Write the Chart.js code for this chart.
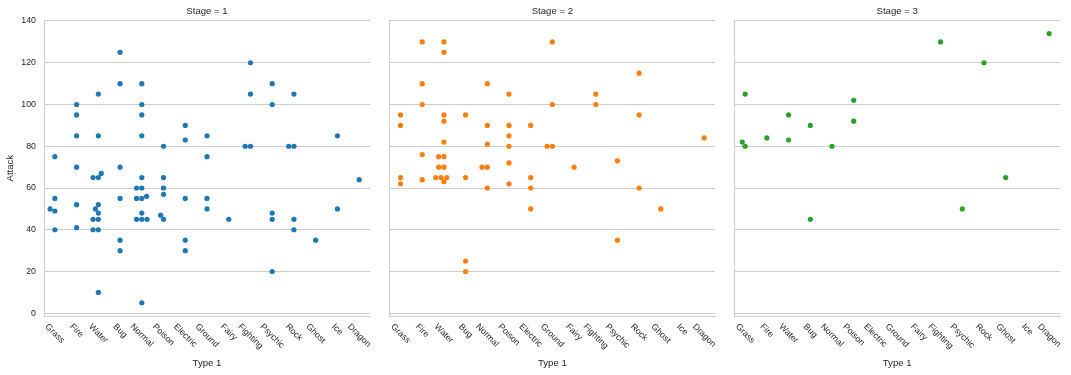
<!DOCTYPE html>
<html>
<head>
<meta charset="utf-8">
<script src="https://cdn.jsdelivr.net/npm/chart.js@4/dist/chart.umd.min.js"></script>
<style>
  body { margin: 0; background: #fff; }
  #wrap { position: relative; width: 1071px; height: 375px; overflow: hidden; }
  canvas { position: absolute; top: 0; }
</style>
</head>
<body>
<div id="wrap">
  <canvas id="c1" width="380" height="375" style="left:0px"></canvas>
  <canvas id="c2" width="350" height="375" style="left:375px"></canvas>
  <canvas id="c3" width="351" height="375" style="left:720px"></canvas>
</div>
<script>
//categories (Type 1)
var types = ['Grass', 'Fire', 'Water', 'Bug', 'Normal', 'Poison', 'Electric', 'Ground',
             'Fairy', 'Fighting', 'Psychic', 'Rock', 'Ghost', 'Ice', 'Dragon'];

//attack values per type, one array per stage
var stage1Attack = [
  [49, 50, 75, 40, 55],
  [52, 41, 70, 85, 95, 100],
  [48, 52, 50, 40, 65, 45, 65, 105, 40, 67, 45, 10, 85],
  [30, 35, 70, 55, 110, 125],
  [45, 56, 60, 45, 45, 65, 85, 55, 5, 95, 100, 48, 55, 60, 110],
  [60, 47, 57, 45, 80, 65],
  [55, 35, 30, 83, 90],
  [75, 55, 50, 85],
  [45],
  [80, 80, 120, 105],
  [20, 48, 45, 110, 100],
  [80, 45, 40, 80, 105],
  [35],
  [50, 85],
  [64]
];
var stage2Attack = [
  [62, 65, 90, 95],
  [64, 76, 110, 100, 130],
  [63, 82, 65, 70, 75, 70, 95, 130, 65, 92, 125, 65, 75],
  [20, 25, 95, 65],
  [60, 81, 90, 70, 70, 110],
  [85, 62, 72, 80, 105, 90],
  [90, 60, 50, 65],
  [100, 80, 80, 130],
  [70],
  [105, 100],
  [35, 73],
  [95, 60, 115],
  [50],
  [],
  [84]
];
var stage3Attack = [
  [82, 80, 105],
  [84],
  [83, 95],
  [45, 90],
  [80],
  [92, 102],
  [],
  [],
  [],
  [130],
  [50],
  [120],
  [65],
  [],
  [134]
];

var stageNames = ['Stage = 1', 'Stage = 2', 'Stage = 3'];
var yTicks = [0, 20, 40, 60, 80, 100, 120, 140];

var textColor = '#262626';
var gridColor = '#cccccc';
var fontFamily = '"Liberation Sans", Arial, sans-serif';
Chart.defaults.font.family = fontFamily;
Chart.defaults.color = textColor;

//rotated category labels (matplotlib style, rotation -45)
var typeLabels = {
  id: 'typeLabels',
  afterDraw: function(chart) {
    var ctx = chart.ctx;
    var xs = chart.scales.x;
    ctx.save();
    ctx.font = '8.8px ' + fontFamily;
    ctx.fillStyle = textColor;
    ctx.textAlign = 'center';
    ctx.textBaseline = 'middle';
    for (var i = 0; i < types.length; i++) {
      var w = ctx.measureText(types[i]).width;
      var side = (w + 10) * Math.SQRT1_2;
      ctx.save();
      ctx.translate(xs.getPixelForValue(i), xs.top + 5.5 + side / 2);
      ctx.rotate(Math.PI / 4);
      ctx.fillText(types[i], 0, 0);
      ctx.restore();
    }
    ctx.restore();
  }
};

//beeswarm layout, same steps as seaborn's swarmplot, done in pixels
function swarmPoints(chart, values) {
  var xs = chart.scales.x;
  var ys = chart.scales.y;
  var d = 5;
  var out = [];
  values.forEach(function(list, c) {
    var cx = xs.getPixelForValue(c);
    var sorted = list.slice().sort(function(a, b) { return a - b; });
    var swarm = [];
    sorted.forEach(function(v) {
      var yUp = -ys.getPixelForValue(v);
      if (swarm.length == 0) {
        swarm.push({x: cx, y: yUp, v: v});
        return;
      }
      var nb = [];
      for (var j = swarm.length - 1; j >= 0; j--) {
        if (yUp - swarm[j].y < d) nb.unshift(swarm[j]);
        else break;
      }
      var cand = [cx];
      var leftFirst = true;
      nb.forEach(function(n) {
        var dy = yUp - n.y;
        var dx = Math.sqrt(Math.max(d * d - dy * dy, 0)) * 1.05;
        if (leftFirst) cand.push(n.x - dx, n.x + dx);
        else cand.push(n.x + dx, n.x - dx);
        leftFirst = !leftFirst;
      });
      var order = cand.map(function(x, k) { return {x: x, k: k}; });
      order.sort(function(a, b) {
        return (Math.abs(a.x - cx) - Math.abs(b.x - cx)) || (a.k - b.k);
      });
      var chosen = order[order.length - 1].x;
      for (var k = 0; k < order.length; k++) {
        var ok = nb.every(function(n) {
          var ddx = n.x - order[k].x, ddy = n.y - yUp;
          return ddx * ddx + ddy * ddy >= d * d - 1e-9;
        });
        if (ok) { chosen = order[k].x; break; }
      }
      swarm.push({x: chosen, y: yUp, v: v});
    });
    swarm.forEach(function(p) {
      out.push({x: xs.getValueForPixel(p.x), y: p.v});
    });
  });
  return out;
}

function makePanel(id, idx, values, color, yWidth, padRight) {
  var first = idx == 0;
  var chart = new Chart(document.getElementById(id), {
    type: 'scatter',
    data: {
      datasets: [{
        data: [],
        backgroundColor: color,
        borderWidth: 0,
        pointRadius: 2.6,
        pointHoverRadius: 2.6
      }]
    },
    options: {
      responsive: false,
      animation: false,
      devicePixelRatio: 1,
      layout: { padding: { left: 0, right: padRight, top: 0, bottom: 0 } },
      plugins: {
        legend: { display: false },
        tooltip: { enabled: false },
        title: {
          display: true,
          text: stageNames[idx],
          fullSize: false,
          color: textColor,
          font: { size: 9.6, weight: 'normal' },
          padding: { top: 5.2, bottom: 3.34 }
        }
      },
      scales: {
        x: {
          type: 'linear',
          min: -0.5,
          max: 14.5,
          grid: { display: false },
          border: { display: true, color: gridColor, width: 1 },
          ticks: { display: false },
          title: {
            display: true,
            text: 'Type 1',
            color: textColor,
            font: { size: 9.6 },
            padding: { top: 0, bottom: 6.2 }
          },
          afterFit: function(scale) { scale.height = 58.7; }
        },
        y: {
          type: 'linear',
          min: -1.45,
          max: 140.45,
          afterBuildTicks: function(scale) {
            scale.ticks = yTicks.map(function(v) { return {value: v}; });
          },
          grid: { color: gridColor, lineWidth: 1, drawTicks: false },
          border: { display: true, color: gridColor, width: 1 },
          ticks: {
            display: first,
            padding: 8,
            color: textColor,
            font: { size: 8.8 }
          },
          title: {
            display: first,
            text: 'Attack',
            color: textColor,
            font: { size: 9.6 },
            padding: { top: 4.2, bottom: 0 }
          },
          afterFit: function(scale) { scale.width = yWidth; }
        }
      }
    },
    plugins: [typeLabels]
  });
  chart.data.datasets[0].data = swarmPoints(chart, values);
  chart.update('none');
  return chart;
}

makePanel('c1', 0, stage1Attack, '#1f77b4', 44, 10);
makePanel('c2', 1, stage2Attack, '#ff7f0e', 14.7, 10);
makePanel('c3', 2, stage3Attack, '#2ca02c', 14.3, 11);
</script>
</body>
</html>
